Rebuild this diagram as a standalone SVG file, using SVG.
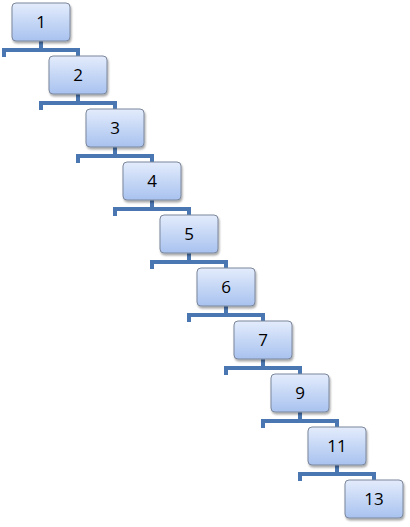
<svg xmlns="http://www.w3.org/2000/svg" width="410" height="527" viewBox="0 0 410 527">
<defs>
<linearGradient id="g" x1="0" y1="0" x2="0" y2="1">
<stop offset="0" stop-color="#e3ecfc"/>
<stop offset="1" stop-color="#a8c2ef"/>
</linearGradient>
<filter id="sh" x="-20%" y="-20%" width="150%" height="150%">
<feGaussianBlur in="SourceAlpha" stdDeviation="1.2"/>
<feOffset dx="1" dy="1.5" result="b"/>
<feComponentTransfer><feFuncA type="linear" slope="0.35"/></feComponentTransfer>
<feMerge><feMergeNode/><feMergeNode in="SourceGraphic"/></feMerge>
</filter>
</defs>
<style>
.n rect{fill:url(#g);stroke:#7b879c;stroke-width:1;filter:url(#sh)}
.n text{font-family:"Open Sans","Liberation Sans",sans-serif;font-size:17px;fill:#000;text-anchor:middle}
.c path{fill:none;stroke:#4a77b1;stroke-width:4}
</style>
<g class="c">
<path d="M41,41V50M4,57V50H78V56"/>
<path d="M78,94V103M41,110V103H115V109"/>
<path d="M115,147V156M78,163V156H152V162"/>
<path d="M152,200V209M115,216V209H189V215"/>
<path d="M189,253V262M152,269V262H226V268"/>
<path d="M226,306V315M189,322V315H263V321"/>
<path d="M263,359V368M226,375V368H300V374"/>
<path d="M300,412V421M263,428V421H337V427"/>
<path d="M337,465V474M300,481V474H374V480"/>
</g>
<g id="n1" class="n"><rect x="12" y="3" width="58" height="38" rx="4"/><text x="41" y="28">1</text></g>
<g id="n2" class="n"><rect x="49" y="56" width="58" height="38" rx="4"/><text x="78" y="81">2</text></g>
<g id="n3" class="n"><rect x="86" y="109" width="58" height="38" rx="4"/><text x="115" y="134">3</text></g>
<g id="n4" class="n"><rect x="123" y="162" width="58" height="38" rx="4"/><text x="152" y="187">4</text></g>
<g id="n5" class="n"><rect x="160" y="215" width="58" height="38" rx="4"/><text x="189" y="240">5</text></g>
<g id="n6" class="n"><rect x="197" y="268" width="58" height="38" rx="4"/><text x="226" y="293">6</text></g>
<g id="n7" class="n"><rect x="234" y="321" width="58" height="38" rx="4"/><text x="263" y="346">7</text></g>
<g id="n9" class="n"><rect x="271" y="374" width="58" height="38" rx="4"/><text x="300" y="399">9</text></g>
<g id="n11" class="n"><rect x="308" y="427" width="58" height="38" rx="4"/><text x="337" y="452">11</text></g>
<g id="n13" class="n"><rect x="345" y="480" width="58" height="38" rx="4"/><text x="374" y="505">13</text></g>
</svg>
